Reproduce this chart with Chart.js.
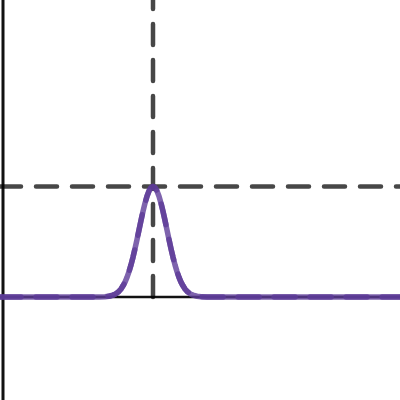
<!DOCTYPE html>
<html>
<head>
<meta charset="utf-8">
<style>
  html, body { margin: 0; padding: 0; background: #ffffff; }
  #wrap { width: 400px; height: 400px; }
</style>
<script src="https://cdn.jsdelivr.net/npm/chart.js@4/dist/chart.umd.min.js"></script>
</head>
<body>
<div id="wrap"><canvas id="c" width="400" height="400"></canvas></div>
<script>
// Curve (x in axis units, y relative to peak height)
const curveX = [-0.03, 0.81, 0.96, 1.02, 1.06, 1.10, 1.12, 1.14, 1.16, 1.18, 1.20, 1.22, 1.24, 1.26, 1.28, 1.30, 1.32, 1.34, 1.36, 1.38, 1.40, 1.42, 1.44, 1.46, 1.48, 1.50,
                1.52, 1.54, 1.56, 1.58, 1.60, 1.62, 1.64, 1.66, 1.68, 1.70, 1.72, 1.74, 1.76, 1.78, 1.80, 1.82, 1.84, 1.86, 1.88, 1.90, 1.94, 1.98, 2.04, 2.21, 3.97];
const curveY = [0, 0, 0.001, 0.003, 0.007, 0.017, 0.025, 0.037, 0.052, 0.073, 0.101, 0.135, 0.178, 0.230, 0.291, 0.360, 0.437, 0.520, 0.607, 0.693, 0.775, 0.849, 0.912, 0.960, 0.990, 1.000,
                0.990, 0.960, 0.912, 0.849, 0.775, 0.693, 0.607, 0.520, 0.437, 0.360, 0.291, 0.230, 0.178, 0.135, 0.101, 0.073, 0.052, 0.037, 0.025, 0.017, 0.007, 0.003, 0.001, 0, 0];

// Axis ranges
const xRange = [-0.03, 3.97];
const yRange = [-0.932, 2.688];

// Reference (peak) position
const peakX = 1.50;
const peakY = 1.0;

const curve = curveX.map((x, i) => ({ x: x, y: curveY[i] }));
const purple = 'rgba(94, 60, 153, 0.8)';
const gray = 'rgba(0, 0, 0, 0.72)';

new Chart(document.getElementById('c'), {
  type: 'line',
  data: {
    datasets: [
      { // y axis line
        data: [{ x: 0, y: yRange[0] }, { x: 0, y: yRange[1] }],
        borderColor: '#111111', borderWidth: 3, pointRadius: 0, order: 6
      },
      { // x axis line
        data: [{ x: xRange[0], y: 0 }, { x: xRange[1], y: 0 }],
        borderColor: '#111111', borderWidth: 2.5, pointRadius: 0, order: 5
      },
      { // horizontal dashed reference
        data: [{ x: xRange[0], y: peakY }, { x: xRange[1], y: peakY }],
        borderColor: gray, borderWidth: 4.5, borderDash: [21, 15], borderCapStyle: 'round',
        pointRadius: 0, order: 4
      },
      { // vertical dashed reference
        data: [{ x: peakX, y: 0 }, { x: peakX, y: yRange[1] }],
        borderColor: gray, borderWidth: 4.5, borderDash: [21, 15], borderCapStyle: 'round',
        pointRadius: 0, order: 3
      },
      { // curve solid
        data: curve,
        borderColor: purple, borderWidth: 5.5, pointRadius: 0, tension: 0,
        borderJoinStyle: 'round', order: 2
      },
      { // curve dashed overlay
        data: curve,
        borderColor: purple, borderWidth: 5.5, borderDash: [21, 15], borderCapStyle: 'round',
        pointRadius: 0, tension: 0, borderJoinStyle: 'round', order: 1
      }
    ]
  },
  options: {
    responsive: false,
    animation: false,
    events: [],
    layout: { padding: 0 },
    plugins: { legend: { display: false }, tooltip: { enabled: false } },
    scales: {
      x: { type: 'linear', min: xRange[0], max: xRange[1], display: false },
      y: { type: 'linear', min: yRange[0], max: yRange[1], display: false }
    }
  }
});
</script>
</body>
</html>
